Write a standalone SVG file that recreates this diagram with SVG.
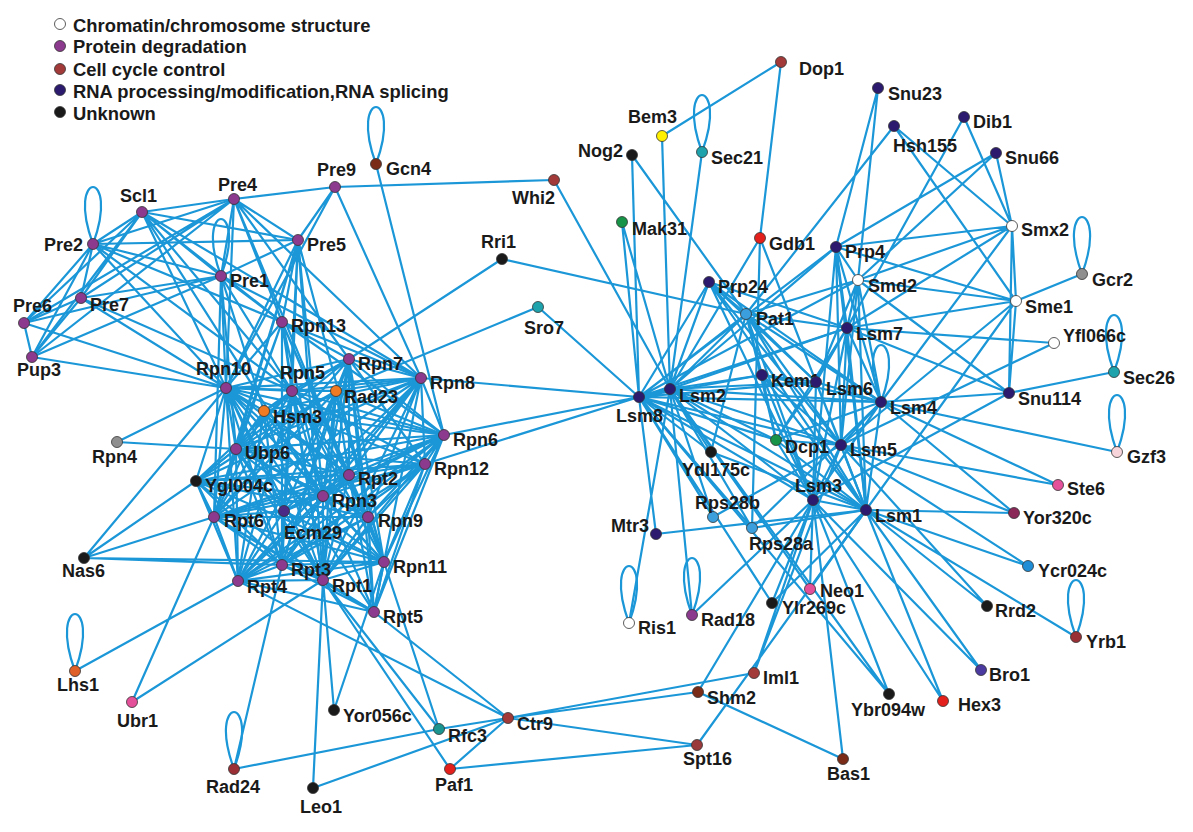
<svg xmlns="http://www.w3.org/2000/svg" xmlns:xlink="http://www.w3.org/1999/xlink" width="1193" height="832" viewBox="0 0 1193 832">
<style>
.e{stroke:#1b97d8;stroke-width:2.2;fill:none;stroke-linecap:round}
circle{stroke:#333;stroke-width:0.8}
text{font-family:"Liberation Sans",Arial,sans-serif;font-weight:bold;font-size:18px;fill:#1a1a1a}
#legend text{font-size:18.4px}
.pd{fill:#8b3a8e}.cc{fill:#a23a3a}.cd{fill:#7a2c18}.rna{fill:#2b1a6e}.unk{fill:#1a1a1a}.chr{fill:#fff}
.or{fill:#f07b22}.gr{fill:#8f8f8f}.tl{fill:#1ea3ad}.yl{fill:#fff000}.gn{fill:#179447}.rd{fill:#e3201b}
.lb{fill:#3a9fdc}.pk{fill:#e4509a}.pl{fill:#f7d3da}.dp{fill:#4b2a85}.mr{fill:#8a2858}
</style>
<defs><path id="loop" d="M0 0C-28-76 28-76 0 0"/></defs>
<rect width="1193" height="832" fill="#fff"/>
<g id="legend">
<circle cx="60" cy="24" r="5.5" class="chr"/><text x="73" y="32">Chromatin/chromosome structure</text>
<circle cx="60" cy="46" r="5.5" class="pd"/><text x="73" y="53">Protein degradation</text>
<circle cx="60" cy="69" r="5.5" class="cc"/><text x="73" y="76">Cell cycle control</text>
<circle cx="60" cy="90" r="5.5" class="rna"/><text x="73" y="98">RNA processing/modification,RNA splicing</text>
<circle cx="60" cy="112" r="5.5" class="unk"/><text x="73" y="120">Unknown</text>
</g>
<g id="connectors">
<g id="loops" class="e">
<use xlink:href="#loop" transform="translate(376,164)"/>
<use xlink:href="#loop" transform="translate(93,244)"/>
<use xlink:href="#loop" transform="translate(221,276)"/>
<use xlink:href="#loop" transform="translate(75,671)"/>
<use xlink:href="#loop" transform="translate(234,769)"/>
<use xlink:href="#loop" transform="translate(702,152)"/>
<use xlink:href="#loop" transform="translate(1082,274)"/>
<use xlink:href="#loop" transform="translate(1114,372)"/>
<use xlink:href="#loop" transform="translate(1117,452)"/>
<use xlink:href="#loop" transform="translate(1076,637)"/>
<use xlink:href="#loop" transform="translate(629,623)"/>
<use xlink:href="#loop" transform="translate(692,615)"/>
<use xlink:href="#loop" transform="translate(881,402)"/>
</g>
<path class="e" d="M93 244L142 212M93 244L234 199M93 244L221 276M93 244L81 298M93 244L32 357M93 244L24 323M93 244L298 240M93 244L282 322M93 244L292 391"/>
<path class="e" d="M142 212L234 199M142 212L221 276M142 212L81 298M142 212L32 357M142 212L24 323M142 212L298 240M142 212L282 322M142 212L421 378M142 212L323 496M142 212L292 391"/>
<path class="e" d="M234 199L335 187M234 199L221 276M234 199L81 298M234 199L32 357M234 199L298 240M234 199L24 323M234 199L421 378M234 199L282 322M234 199L349 475M234 199L349 359"/>
<path class="e" d="M221 276L81 298M221 276L32 357M221 276L24 323M221 276L298 240M221 276L282 322M221 276L292 391M221 276L236 449M221 276L421 378M221 276L264 411M221 276L214 517"/>
<path class="e" d="M81 298L32 357M81 298L24 323M81 298L292 391M24 323L32 357"/>
<path class="e" d="M335 187L298 240M335 187L421 378M335 187L554 180M335 187L226 388"/>
<path class="e" d="M298 240L282 322M298 240L292 391M298 240L236 449M298 240L323 496M298 240L284 511M298 240L214 517M298 240L384 562M298 240L323 580"/>
<path class="e" d="M226 388L93 244M226 388L81 298M226 388L24 323M226 388L32 357M226 388L221 276M226 388L234 199M226 388L298 240M226 388L142 212"/>
<path class="e" d="M226 388L282 322M226 388L292 391M226 388L336 391M226 388L349 359M226 388L421 378M226 388L264 411M226 388L236 449M226 388L444 435M226 388L425 464M226 388L349 475M226 388L196 481M226 388L323 496M226 388L284 511M226 388L214 517M226 388L368 517M226 388L384 562M226 388L282 565M226 388L323 580M226 388L238 581M226 388L374 612"/>
<path class="e" d="M282 322L292 391M282 322L349 359M282 322L421 378M282 322L236 449M282 322L444 435M282 322L349 475M282 322L323 496M282 322L214 517M282 322L384 562M282 322L282 565M282 322L323 580"/>
<path class="e" d="M292 391L336 391M292 391L349 359M292 391L421 378M292 391L264 411M292 391L236 449M292 391L444 435M292 391L425 464M292 391L349 475M292 391L196 481M292 391L323 496M292 391L214 517M292 391L368 517M292 391L384 562M292 391L282 565M292 391L323 580M292 391L238 581"/>
<path class="e" d="M336 391L349 359M336 391L421 378M336 391L236 449M336 391L444 435M336 391L349 475M336 391L196 481M336 391L323 496M336 391L284 511M336 391L214 517M336 391L384 562M336 391L282 565M336 391L323 580M336 391L238 581"/>
<path class="e" d="M349 359L421 378M349 359L264 411M349 359L236 449M349 359L444 435M349 359L425 464M349 359L349 475M349 359L196 481M349 359L323 496M349 359L214 517M349 359L368 517M349 359L384 562M349 359L282 565M349 359L323 580M349 359L374 612"/>
<path class="e" d="M421 378L264 411M421 378L236 449M421 378L444 435M421 378L425 464M421 378L349 475M421 378L196 481M421 378L323 496M421 378L284 511M421 378L214 517M421 378L368 517M421 378L384 562M421 378L282 565M421 378L323 580M421 378L238 581M421 378L374 612"/>
<path class="e" d="M264 411L236 449M264 411L444 435M264 411L349 475M264 411L323 496M264 411L214 517M264 411L282 565M264 411L323 580M264 411L238 581"/>
<path class="e" d="M236 449L444 435M236 449L425 464M236 449L349 475M236 449L196 481M236 449L323 496M236 449L284 511M236 449L214 517M236 449L368 517M236 449L384 562M236 449L282 565M236 449L323 580M236 449L238 581"/>
<path class="e" d="M444 435L425 464M444 435L349 475M444 435L196 481M444 435L323 496M444 435L284 511M444 435L214 517M444 435L368 517M444 435L384 562M444 435L282 565M444 435L323 580M444 435L238 581M444 435L374 612"/>
<path class="e" d="M425 464L349 475M425 464L196 481M425 464L323 496M425 464L214 517M425 464L368 517M425 464L384 562M425 464L282 565M425 464L323 580M425 464L238 581M425 464L374 612"/>
<path class="e" d="M349 475L196 481M349 475L323 496M349 475L284 511M349 475L214 517M349 475L368 517M349 475L384 562M349 475L282 565M349 475L323 580M349 475L238 581M349 475L374 612"/>
<path class="e" d="M196 481L323 496M196 481L214 517M196 481L368 517M196 481L384 562M196 481L282 565M196 481L323 580M196 481L238 581"/>
<path class="e" d="M323 496L284 511M323 496L214 517M323 496L368 517M323 496L384 562M323 496L282 565M323 496L323 580M323 496L238 581M323 496L374 612"/>
<path class="e" d="M284 511L214 517M284 511L384 562M284 511L282 565M284 511L323 580M284 511L238 581"/>
<path class="e" d="M214 517L368 517M214 517L384 562M214 517L282 565M214 517L323 580M214 517L238 581M214 517L374 612"/>
<path class="e" d="M368 517L384 562M368 517L282 565M368 517L323 580M368 517L238 581M368 517L374 612M384 562L282 565M384 562L323 580M384 562L238 581M384 562L374 612M282 565L323 580M282 565L238 581M282 565L374 612M323 580L238 581M323 580L374 612M238 581L374 612"/>
<path class="e" d="M376 164L444 435M117 442L226 388M117 442L236 449M84 558L226 388M84 558L196 481M84 558L214 517M84 558L282 565M84 558L384 562M75 671L238 581M132 702L214 517M132 702L323 580M234 769L282 565M234 769L439 729M313 788L323 580M313 788L508 718M334 710L323 580M334 710L384 562"/>
<path class="e" d="M439 729L323 580M439 729L384 562M439 729L508 718M450 769L323 580M450 769L508 718M450 769L697 745M508 718L238 581M508 718L374 612M508 718L754 673M508 718L698 692M508 718L697 745"/>
<path class="e" d="M554 180L670 389M502 259L349 359M502 259L746 314M538 307L336 391M538 307L639 397M639 397L421 378M639 397L444 435M639 397L425 464"/>
<path class="e" d="M639 397L670 389M639 397L746 314M639 397L709 282M639 397L762 375M639 397L816 382M639 397L847 328M639 397L881 402M639 397L776 440M639 397L841 445M639 397L813 500M639 397L866 510M639 397L836 247M639 397L858 280"/>
<path class="e" d="M670 389L746 314M670 389L709 282M670 389L762 375M670 389L816 382M670 389L847 328M670 389L881 402M670 389L776 440M670 389L841 445M670 389L813 500M670 389L866 510M670 389L836 247"/>
<path class="e" d="M746 314L709 282M746 314L762 375M746 314L816 382M746 314L847 328M746 314L881 402M746 314L776 440M746 314L841 445M746 314L813 500M746 314L866 510M746 314L858 280"/>
<path class="e" d="M709 282L816 382M709 282L847 328M709 282L881 402M709 282L841 445M709 282L813 500M709 282L866 510M762 375L816 382M762 375L881 402M762 375L776 440M762 375L841 445M762 375L813 500M762 375L866 510"/>
<path class="e" d="M816 382L847 328M816 382L881 402M816 382L776 440M816 382L841 445M816 382L813 500M816 382L866 510M816 382L858 280M847 328L881 402M847 328L776 440M847 328L841 445M847 328L813 500M847 328L866 510M847 328L836 247M847 328L858 280"/>
<path class="e" d="M881 402L776 440M881 402L841 445M881 402L813 500M881 402L866 510M881 402L836 247M881 402L858 280M776 440L841 445M776 440L813 500M776 440L866 510M841 445L813 500M841 445L866 510M841 445L836 247M841 445L858 280M813 500L866 510M813 500L836 247M866 510L836 247M866 510L858 280M836 247L858 280"/>
<path class="e" d="M781 62L662 136M781 62L760 238M662 136L670 389M702 152L670 389M632 155L639 397M632 155L746 314M622 222L639 397M622 222L670 389M760 238L670 389M760 238L816 382M760 238L752 528"/>
<path class="e" d="M878 88L836 247M878 88L858 280M894 126L746 314M894 126L1012 226M894 126L1016 301M964 117L1012 226M964 117L847 328M996 153L836 247M996 153L1012 226M996 153L858 280"/>
<path class="e" d="M1012 226L836 247M1012 226L858 280M1012 226L1016 301M1012 226L1009 393M1012 226L881 402M1012 226L847 328M1082 274L1016 301M1016 301L836 247M1016 301L858 280M1016 301L847 328M1016 301L841 445M1016 301L1009 393M1016 301L866 510"/>
<path class="e" d="M1054 343L847 328M1054 343L841 445M1009 393L881 402M1009 393L813 500M1009 393L858 280M1009 393L847 328M1009 393L1114 372M1117 452L881 402M1058 485L881 402M1058 485L841 445M1014 513L866 510M1014 513L841 445M1014 513L881 402"/>
<path class="e" d="M1028 566L866 510M1028 566L841 445M987 606L866 510M987 606L841 445M1076 637L866 510M981 670L866 510M981 670L813 500M943 701L866 510M943 701L813 500M889 694L639 397M889 694L670 389M889 694L813 500"/>
<path class="e" d="M810 589L813 500M810 589L866 510M810 589L670 389M772 603L813 500M772 603L866 510M772 603L639 397M713 517L639 397M713 517L670 389M713 517L841 445M752 528L639 397M752 528L670 389M752 528L866 510M752 528L881 402"/>
<path class="e" d="M711 452L639 397M711 452L670 389M711 452L746 314M711 452L866 510M656 534L639 397M656 534L866 510M629 623L670 389M692 615L670 389M692 615L813 500M754 673L813 500M754 673L841 445M698 692L813 500M698 692L843 759M697 745L866 510M843 759L813 500"/>
</g>
<g id="nodes">
<g id="n-Gcn4"><circle cx="376" cy="164" r="5.5" class="cd"/><text x="386" y="175">Gcn4</text></g>
<g id="n-Pre9"><circle cx="335" cy="187" r="5.5" class="pd"/><text x="317" y="176">Pre9</text></g>
<g id="n-Pre4"><circle cx="234" cy="199" r="5.5" class="pd"/><text x="218" y="191">Pre4</text></g>
<g id="n-Scl1"><circle cx="142" cy="212" r="5.5" class="pd"/><text x="120" y="202">Scl1</text></g>
<g id="n-Pre2"><circle cx="93" cy="244" r="5.5" class="pd"/><text x="44" y="251">Pre2</text></g>
<g id="n-Pre5"><circle cx="298" cy="240" r="5.5" class="pd"/><text x="307" y="251">Pre5</text></g>
<g id="n-Pre1"><circle cx="221" cy="276" r="5.5" class="pd"/><text x="230" y="287">Pre1</text></g>
<g id="n-Pre7"><circle cx="81" cy="298" r="5.5" class="pd"/><text x="90" y="311">Pre7</text></g>
<g id="n-Pre6"><circle cx="24" cy="323" r="5.5" class="pd"/><text x="13" y="312">Pre6</text></g>
<g id="n-Pup3"><circle cx="32" cy="357" r="5.5" class="pd"/><text x="17" y="376">Pup3</text></g>
<g id="n-Rpn13"><circle cx="282" cy="322" r="5.5" class="pd"/><text x="291" y="332">Rpn13</text></g>
<g id="n-Rpn10"><circle cx="226" cy="388" r="5.5" class="pd"/><text x="196" y="375">Rpn10</text></g>
<g id="n-Rpn5"><circle cx="292" cy="391" r="5.5" class="pd"/><text x="280" y="379">Rpn5</text></g>
<g id="n-Rad23"><circle cx="336" cy="391" r="5.5" class="or"/><text x="344" y="403">Rad23</text></g>
<g id="n-Rpn7"><circle cx="349" cy="359" r="5.5" class="pd"/><text x="358" y="370">Rpn7</text></g>
<g id="n-Rpn8"><circle cx="421" cy="378" r="5.5" class="pd"/><text x="430" y="389">Rpn8</text></g>
<g id="n-Hsm3"><circle cx="264" cy="411" r="5.5" class="or"/><text x="273" y="423">Hsm3</text></g>
<g id="n-Rpn4"><circle cx="117" cy="442" r="5.5" class="gr"/><text x="92" y="463">Rpn4</text></g>
<g id="n-Ubp6"><circle cx="236" cy="449" r="5.5" class="pd"/><text x="245" y="459">Ubp6</text></g>
<g id="n-Rpn6"><circle cx="444" cy="435" r="5.5" class="pd"/><text x="453" y="446">Rpn6</text></g>
<g id="n-Rpn12"><circle cx="425" cy="464" r="5.5" class="pd"/><text x="434" y="475">Rpn12</text></g>
<g id="n-Rpt2"><circle cx="349" cy="475" r="5.5" class="pd"/><text x="358" y="485">Rpt2</text></g>
<g id="n-Ygl004c"><circle cx="196" cy="481" r="5.5" class="unk"/><text x="205" y="492">Ygl004c</text></g>
<g id="n-Rpn3"><circle cx="323" cy="496" r="5.5" class="pd"/><text x="332" y="507">Rpn3</text></g>
<g id="n-Ecm29"><circle cx="284" cy="511" r="5.5" class="dp"/><text x="284" y="539">Ecm29</text></g>
<g id="n-Rpt6"><circle cx="214" cy="517" r="5.5" class="pd"/><text x="224" y="527">Rpt6</text></g>
<g id="n-Rpn9"><circle cx="368" cy="517" r="5.5" class="pd"/><text x="378" y="527">Rpn9</text></g>
<g id="n-Nas6"><circle cx="84" cy="558" r="5.5" class="unk"/><text x="62" y="577">Nas6</text></g>
<g id="n-Rpn11"><circle cx="384" cy="562" r="5.5" class="pd"/><text x="393" y="573">Rpn11</text></g>
<g id="n-Rpt3"><circle cx="282" cy="565" r="5.5" class="pd"/><text x="291" y="576">Rpt3</text></g>
<g id="n-Rpt1"><circle cx="323" cy="580" r="5.5" class="pd"/><text x="332" y="592">Rpt1</text></g>
<g id="n-Rpt4"><circle cx="238" cy="581" r="5.5" class="pd"/><text x="247" y="593">Rpt4</text></g>
<g id="n-Rpt5"><circle cx="374" cy="612" r="5.5" class="pd"/><text x="383" y="623">Rpt5</text></g>
<g id="n-Lhs1"><circle cx="75" cy="671" r="5.5" style="fill:#e0602a"/><text x="57" y="691">Lhs1</text></g>
<g id="n-Ubr1"><circle cx="132" cy="702" r="5.5" class="pk"/><text x="117" y="727">Ubr1</text></g>
<g id="n-Rad24"><circle cx="234" cy="769" r="5.5" style="fill:#9a3035"/><text x="206" y="793">Rad24</text></g>
<g id="n-Leo1"><circle cx="313" cy="788" r="5.5" class="unk"/><text x="300" y="813">Leo1</text></g>
<g id="n-Yor056c"><circle cx="334" cy="710" r="5.5" class="unk"/><text x="343" y="722">Yor056c</text></g>
<g id="n-Rfc3"><circle cx="439" cy="729" r="5.5" style="fill:#1a9590"/><text x="448" y="742">Rfc3</text></g>
<g id="n-Paf1"><circle cx="450" cy="769" r="5.5" class="rd"/><text x="435" y="791">Paf1</text></g>
<g id="n-Ctr9"><circle cx="508" cy="718" r="5.5" class="cc"/><text x="517" y="730">Ctr9</text></g>
<g id="n-Sro7"><circle cx="538" cy="307" r="5.5" class="tl"/><text x="524" y="334">Sro7</text></g>
<g id="n-Rri1"><circle cx="502" cy="259" r="5.5" class="unk"/><text x="481" y="248">Rri1</text></g>
<g id="n-Whi2"><circle cx="554" cy="180" r="5.5" class="cc"/><text x="512" y="204">Whi2</text></g>
<g id="n-Dop1"><circle cx="781" cy="62" r="5.5" class="cc"/><text x="799" y="75">Dop1</text></g>
<g id="n-Bem3"><circle cx="662" cy="136" r="5.5" class="yl"/><text x="628" y="123">Bem3</text></g>
<g id="n-Nog2"><circle cx="632" cy="155" r="5.5" class="unk"/><text x="578" y="157">Nog2</text></g>
<g id="n-Sec21"><circle cx="702" cy="152" r="5.5" class="tl"/><text x="711" y="164">Sec21</text></g>
<g id="n-Mak31"><circle cx="622" cy="222" r="5.5" class="gn"/><text x="632" y="235">Mak31</text></g>
<g id="n-Gdb1"><circle cx="760" cy="238" r="5.5" class="rd"/><text x="769" y="250">Gdb1</text></g>
<g id="n-Prp24"><circle cx="709" cy="282" r="5.5" class="rna"/><text x="718" y="293">Prp24</text></g>
<g id="n-Prp4"><circle cx="836" cy="247" r="5.5" class="rna"/><text x="845" y="258">Prp4</text></g>
<g id="n-Snu23"><circle cx="878" cy="88" r="5.5" class="rna"/><text x="888" y="100">Snu23</text></g>
<g id="n-Hsh155"><circle cx="894" cy="126" r="5.5" class="rna"/><text x="893" y="152">Hsh155</text></g>
<g id="n-Dib1"><circle cx="964" cy="117" r="5.5" class="rna"/><text x="973" y="128">Dib1</text></g>
<g id="n-Snu66"><circle cx="996" cy="153" r="5.5" class="rna"/><text x="1005" y="164">Snu66</text></g>
<g id="n-Smx2"><circle cx="1012" cy="226" r="5.5" class="chr"/><text x="1021" y="236">Smx2</text></g>
<g id="n-Gcr2"><circle cx="1082" cy="274" r="5.5" class="gr"/><text x="1092" y="286">Gcr2</text></g>
<g id="n-Smd2"><circle cx="858" cy="280" r="5.5" class="chr"/><text x="868" y="292">Smd2</text></g>
<g id="n-Sme1"><circle cx="1016" cy="301" r="5.5" class="chr"/><text x="1025" y="313">Sme1</text></g>
<g id="n-Pat1"><circle cx="746" cy="314" r="5.5" class="lb"/><text x="756" y="325">Pat1</text></g>
<g id="n-Lsm7"><circle cx="847" cy="328" r="5.5" class="rna"/><text x="856" y="340">Lsm7</text></g>
<g id="n-Yfl066c"><circle cx="1054" cy="343" r="5.5" class="chr"/><text x="1063" y="342">Yfl066c</text></g>
<g id="n-Kem1"><circle cx="762" cy="375" r="5.5" class="rna"/><text x="771" y="387">Kem1</text></g>
<g id="n-Lsm6"><circle cx="816" cy="382" r="5.5" class="rna"/><text x="826" y="395">Lsm6</text></g>
<g id="n-Lsm8"><circle cx="639" cy="397" r="5.5" class="rna"/><text x="616" y="422">Lsm8</text></g>
<g id="n-Lsm2"><circle cx="670" cy="389" r="5.5" class="rna"/><text x="679" y="402">Lsm2</text></g>
<g id="n-Lsm4"><circle cx="881" cy="402" r="5.5" class="rna"/><text x="890" y="414">Lsm4</text></g>
<g id="n-Snu114"><circle cx="1009" cy="393" r="5.5" class="rna"/><text x="1018" y="405">Snu114</text></g>
<g id="n-Sec26"><circle cx="1114" cy="372" r="5.5" class="tl"/><text x="1123" y="384">Sec26</text></g>
<g id="n-Dcp1"><circle cx="776" cy="440" r="5.5" class="gn"/><text x="785" y="453">Dcp1</text></g>
<g id="n-Lsm5"><circle cx="841" cy="445" r="5.5" class="rna"/><text x="850" y="456">Lsm5</text></g>
<g id="n-Ydl175c"><circle cx="711" cy="452" r="5.5" class="unk"/><text x="682" y="476">Ydl175c</text></g>
<g id="n-Gzf3"><circle cx="1117" cy="452" r="5.5" class="pl"/><text x="1127" y="463">Gzf3</text></g>
<g id="n-Ste6"><circle cx="1058" cy="485" r="5.5" class="pk"/><text x="1067" y="495">Ste6</text></g>
<g id="n-Lsm3"><circle cx="813" cy="500" r="5.5" class="rna"/><text x="795" y="492">Lsm3</text></g>
<g id="n-Lsm1"><circle cx="866" cy="510" r="5.5" class="rna"/><text x="875" y="522">Lsm1</text></g>
<g id="n-Rps28b"><circle cx="713" cy="517" r="5.5" class="lb"/><text x="695" y="509">Rps28b</text></g>
<g id="n-Rps28a"><circle cx="752" cy="528" r="5.5" class="lb"/><text x="749" y="550">Rps28a</text></g>
<g id="n-Yor320c"><circle cx="1014" cy="513" r="5.5" class="mr"/><text x="1023" y="524">Yor320c</text></g>
<g id="n-Mtr3"><circle cx="656" cy="534" r="5.5" class="rna"/><text x="611" y="532">Mtr3</text></g>
<g id="n-Ycr024c"><circle cx="1028" cy="566" r="5.5" style="fill:#1f8ed6"/><text x="1038" y="577">Ycr024c</text></g>
<g id="n-Neo1"><circle cx="810" cy="589" r="5.5" class="pk"/><text x="820" y="597">Neo1</text></g>
<g id="n-Ylr269c"><circle cx="772" cy="603" r="5.5" class="unk"/><text x="782" y="614">Ylr269c</text></g>
<g id="n-Rrd2"><circle cx="987" cy="606" r="5.5" class="unk"/><text x="995" y="617">Rrd2</text></g>
<g id="n-Ris1"><circle cx="629" cy="623" r="5.5" class="chr"/><text x="638" y="634">Ris1</text></g>
<g id="n-Rad18"><circle cx="692" cy="615" r="5.5" class="pd"/><text x="701" y="626">Rad18</text></g>
<g id="n-Yrb1"><circle cx="1076" cy="637" r="5.5" style="fill:#9a3035"/><text x="1086" y="648">Yrb1</text></g>
<g id="n-Bro1"><circle cx="981" cy="670" r="5.5" style="fill:#4b3aa0"/><text x="989" y="681">Bro1</text></g>
<g id="n-Iml1"><circle cx="754" cy="673" r="5.5" class="cc"/><text x="763" y="684">Iml1</text></g>
<g id="n-Shm2"><circle cx="698" cy="692" r="5.5" class="cd"/><text x="707" y="704">Shm2</text></g>
<g id="n-Ybr094w"><circle cx="889" cy="694" r="5.5" class="unk"/><text x="851" y="716">Ybr094w</text></g>
<g id="n-Hex3"><circle cx="943" cy="701" r="5.5" class="rd"/><text x="958" y="711">Hex3</text></g>
<g id="n-Spt16"><circle cx="697" cy="745" r="5.5" style="fill:#9a3a3a"/><text x="683" y="765">Spt16</text></g>
<g id="n-Bas1"><circle cx="843" cy="759" r="5.5" class="cd"/><text x="827" y="780">Bas1</text></g>
</g>
</svg>
